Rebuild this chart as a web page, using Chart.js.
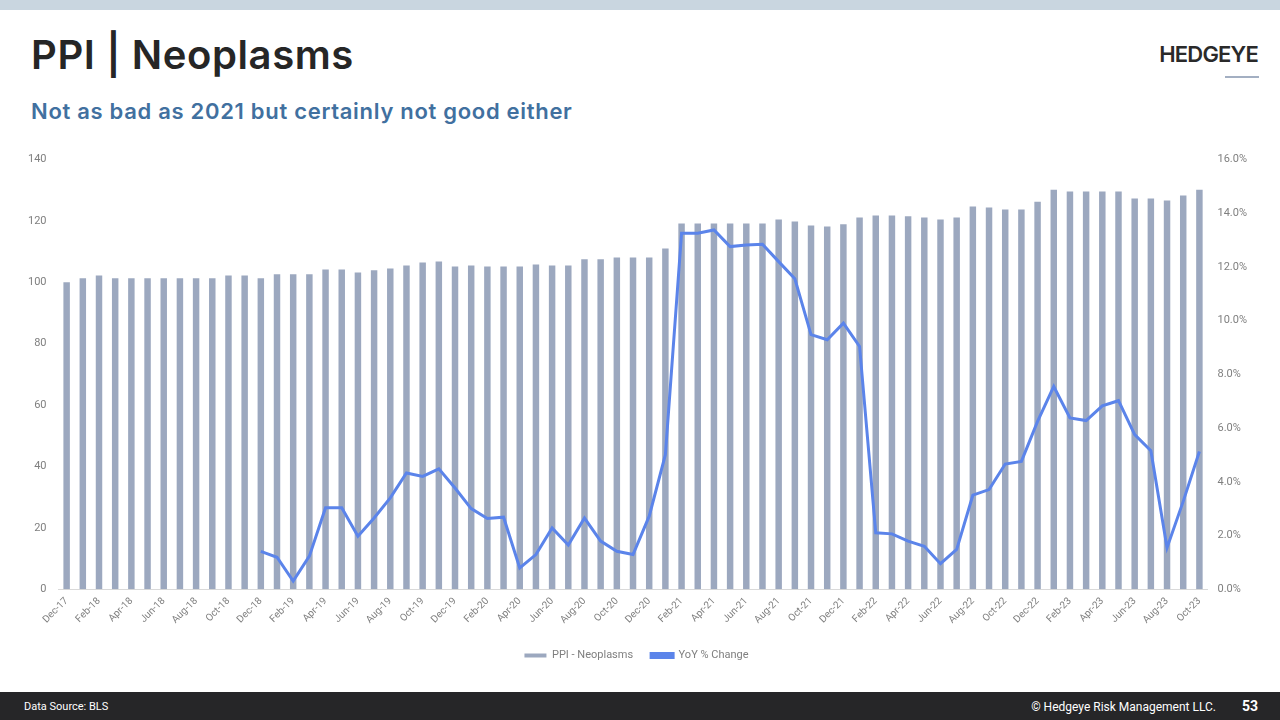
<!DOCTYPE html>
<html>
<head>
<meta charset="utf-8">
<script src="https://cdn.jsdelivr.net/npm/chart.js@4.4.0/dist/chart.umd.min.js"></script>
<style>
  html, body { margin: 0; padding: 0; }
  body { width: 1280px; height: 720px; position: relative; overflow: hidden; background: #fff; font-family: 'Roboto', 'Open Sans', sans-serif; }
  .topband { position: absolute; left: 0; top: 0; width: 1280px; height: 10px; background: #c9d6e0; }
  .title { position: absolute; left: 31px; top: 30px; font-family: 'Inter', sans-serif; font-size: 40px; font-weight: 600; color: #262626; letter-spacing: 0.6px; }
  .subtitle { position: absolute; left: 31px; top: 98px; font-family: 'Inter', sans-serif; font-size: 22px; font-weight: 600; color: #41709f; letter-spacing: 0.7px; }
  .logo { position: absolute; right: 22px; top: 41px; font-family: 'Inter', sans-serif; font-size: 22px; font-weight: 600; color: #2a2a2a; letter-spacing: -0.8px; }
  .logo-line { position: absolute; left: 1225px; top: 76px; width: 34px; height: 2px; background: #a3afc2; }
  .chart-box { position: absolute; left: 14px; top: 141px; width: 1245px; height: 530px; }
  .footer { position: absolute; left: 0; top: 692px; width: 1280px; height: 28px; background: #262628; color: #fff; font-size: 11px; }
  .footer .src { position: absolute; left: 24px; top: 8px; }
  .footer .copy { position: absolute; right: 64px; top: 8px; font-size: 12px; }
  .footer .page { position: absolute; right: 22px; top: 6px; font-size: 14px; font-weight: 700; }
</style>
</head>
<body>
<div class="topband"></div>
<div class="title">PPI | Neoplasms</div>
<div class="subtitle">Not as bad as 2021 but certainly not good either</div>
<div class="logo">HEDGEYE</div>
<div class="logo-line"></div>
<div class="chart-box"><canvas id="ppiChart"></canvas></div>
<div class="footer">
  <span class="src">Data Source: BLS</span>
  <span class="copy">© Hedgeye Risk Management LLC.</span>
  <span class="page">53</span>
</div>

<script>
// -----------------------------------------------------------------------------
// Data
// -----------------------------------------------------------------------------
const MONTHS = [
  'Dec-17',
  'Jan-18','Feb-18','Mar-18','Apr-18','May-18','Jun-18','Jul-18','Aug-18','Sep-18','Oct-18','Nov-18','Dec-18',
  'Jan-19','Feb-19','Mar-19','Apr-19','May-19','Jun-19','Jul-19','Aug-19','Sep-19','Oct-19','Nov-19','Dec-19',
  'Jan-20','Feb-20','Mar-20','Apr-20','May-20','Jun-20','Jul-20','Aug-20','Sep-20','Oct-20','Nov-20','Dec-20',
  'Jan-21','Feb-21','Mar-21','Apr-21','May-21','Jun-21','Jul-21','Aug-21','Sep-21','Oct-21','Nov-21','Dec-21',
  'Jan-22','Feb-22','Mar-22','Apr-22','May-22','Jun-22','Jul-22','Aug-22','Sep-22','Oct-22','Nov-22','Dec-22',
  'Jan-23','Feb-23','Mar-23','Apr-23','May-23','Jun-23','Jul-23','Aug-23','Sep-23','Oct-23'
];

const PPI_NEOPLASMS = [
  100.0,
  101.3, 102.2, 101.3, 101.3, 101.3, 101.3, 101.3, 101.3, 101.3, 102.2, 102.2, 101.3,
  102.6, 102.6, 102.6, 104.2, 104.2, 103.2, 103.9, 104.5, 105.5, 106.5, 106.8, 105.2,
  105.5, 105.2, 105.2, 105.2, 105.8, 105.5, 105.5, 107.5, 107.5, 108.1, 108.1, 108.1,
  111.0, 119.2, 119.2, 119.2, 119.2, 119.2, 119.2, 120.5, 119.8, 118.5, 118.2, 118.9,
  121.1, 121.8, 121.8, 121.5, 121.1, 120.5, 121.1, 124.7, 124.4, 123.7, 123.7, 126.3,
  130.2, 129.6, 129.6, 129.6, 129.6, 127.3, 127.3, 126.7, 128.3, 130.2
];

// YoY % change, starts Dec-18
const YOY_CHANGE = [
  null,
  null, null, null, null, null, null, null, null, null, null, null, 1.41,
  1.19, 0.30, 1.23, 3.03, 3.03, 1.97, 2.65, 3.40, 4.33, 4.20, 4.48, 3.77,
  3.00, 2.63, 2.68, 0.79, 1.29, 2.28, 1.64, 2.65, 1.79, 1.41, 1.29, 2.72,
  5.01, 13.26, 13.26, 13.38, 12.76, 12.82, 12.85, 12.20, 11.56, 9.48, 9.29, 9.91,
  9.04, 2.10, 2.06, 1.79, 1.60, 0.95, 1.48, 3.50, 3.71, 4.66, 4.76, 6.25,
  7.55, 6.38, 6.28, 6.83, 7.02, 5.76, 5.16, 1.54, 3.27, 5.13
];

const LEFT_TICKS = [0, 20, 40, 60, 80, 100, 120, 140];
const RIGHT_TICKS = [0, 2, 4, 6, 8, 10, 12, 14, 16];

const BAR_COLOR = '#9ca8bf';
const LINE_COLOR = '#5b84ea';
const TICK_COLOR = '#7f7f7f';

// -----------------------------------------------------------------------------
// Chart
// -----------------------------------------------------------------------------
Chart.defaults.font.family = "'Roboto', 'Open Sans', sans-serif";

const ctx = document.getElementById('ppiChart');
new Chart(ctx, {
  type: 'bar',
  data: {
    labels: MONTHS,
    datasets: [
      {
        type: 'line',
        label: 'YoY % Change',
        data: YOY_CHANGE,
        yAxisID: 'yRight',
        borderColor: LINE_COLOR,
        backgroundColor: LINE_COLOR,
        borderWidth: 3,
        pointRadius: 0,
        tension: 0,
        spanGaps: false,
        order: 1
      },
      {
        type: 'bar',
        label: 'PPI - Neoplasms',
        data: PPI_NEOPLASMS,
        yAxisID: 'yLeft',
        backgroundColor: BAR_COLOR,
        borderWidth: 0,
        barPercentage: 0.4,
        categoryPercentage: 1.0,
        order: 2
      }
    ]
  },
  options: {
    responsive: true,
    maintainAspectRatio: false,
    animation: false,
    layout: { padding: { top: 4, right: 2, left: 2, bottom: 0 } },
    plugins: {
      legend: {
        position: 'bottom',
        reverse: true,
        labels: {
          color: TICK_COLOR,
          font: { size: 11 },
          boxWidth: 22,
          boxHeight: 4,
          padding: 18
        }
      },
      tooltip: { enabled: false }
    },
    scales: {
      x: {
        grid: { display: false, drawTicks: false },
        border: { color: '#d9d9d9', width: 1 },
        ticks: {
          color: TICK_COLOR,
          font: { size: 10 },
          autoSkip: false,
          maxRotation: 45,
          minRotation: 45,
          padding: 6,
          callback: (val, i) => (i % 2 === 0 ? MONTHS[i] : '')
        }
      },
      yLeft: {
        position: 'left',
        min: 0,
        max: 140,
        afterBuildTicks: axis => { axis.ticks = LEFT_TICKS.map(v => ({ value: v })); },
        grid: { display: false, drawTicks: false },
        border: { display: false },
        ticks: { color: TICK_COLOR, font: { size: 11 }, padding: 12 }
      },
      yRight: {
        position: 'right',
        min: 0,
        max: 16,
        afterBuildTicks: axis => { axis.ticks = RIGHT_TICKS.map(v => ({ value: v })); },
        grid: { display: false, drawTicks: false },
        border: { display: false },
        ticks: {
          color: TICK_COLOR,
          font: { size: 11 },
          padding: 10,
          callback: v => v.toFixed(1) + '%'
        }
      }
    }
  }
});
</script>
</body>
</html>
